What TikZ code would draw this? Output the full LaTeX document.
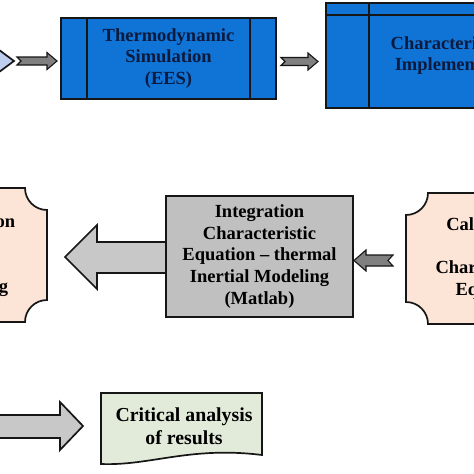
\documentclass[tikz,border=0pt]{standalone}
\usepackage{fontspec}
\setmainfont{Liberation Serif}
\definecolor{boxblue}{RGB}{16,116,214}
\definecolor{navytext}{RGB}{12,26,62}
\definecolor{lightblue}{RGB}{190,206,238}
\definecolor{peach}{RGB}{252,228,214}
\definecolor{greybox}{RGB}{192,192,192}
\definecolor{arrowgrey}{RGB}{128,128,128}
\definecolor{biggrey}{RGB}{200,200,200}
\definecolor{docgreen}{RGB}{226,235,218}
\definecolor{edge}{RGB}{22,22,22}
\newcommand{\plaquepath}[4]{%
 ({#1+22},#2) -- ({#3-22},#2) .. controls ({#3-22},{#2+12.15}) and ({#3-12.15},{#2+22}) .. (#3,{#2+22})
 -- (#3,{#4-22}) .. controls ({#3-12.15},{#4-22}) and ({#3-22},{#4-12.15}) .. ({#3-22},#4)
 -- ({#1+22},#4) .. controls ({#1+22},{#4-12.15}) and ({#1+12.15},{#4-22}) .. (#1,{#4-22})
 -- (#1,{#2+22}) .. controls ({#1+12.15},{#2+22}) and ({#1+22},{#2+12.15}) .. cycle}
\begin{document}
\begin{tikzpicture}[x=1pt,y=-1pt,line join=miter,
  shp/.style={draw=edge,line width=1.7pt},
  lbl/.style={font=\bfseries\fontsize{18.5}{21.7}\selectfont,align=center,inner sep=0pt},
  bluebox/.style={shp,fill=boxblue,text=navytext,lbl,inner sep=0pt},
  smallarr/.style={draw=edge,line width=1.1pt,fill=arrowgrey},
  bigarr/.style={shp,fill=biggrey}]
\useasboundingbox (0,0) rectangle (474,474);
\clip (0,0) rectangle (474,474);
\fill[white] (0,0) rectangle (474,474);

% partial start shape (top left)
\draw[shp,fill=lightblue] (-40,21) -- (14,61) -- (-40,101) -- cycle;
\coordinate (startshape) at (14,61);

% thermodynamic simulation (predefined process)
\node[bluebox,minimum width=215pt,minimum height=81pt] (thermo) at (168.5,58.5)
  {Thermodynamic\\Simulation\\(EES)};
\draw[shp] ([xshift=27pt]thermo.north west) -- ([xshift=27pt]thermo.south west);
\draw[shp] ([xshift=-27pt]thermo.north east) -- ([xshift=-27pt]thermo.south east);

% characteristic implementation (internal storage)
\node[bluebox,minimum width=264pt,minimum height=105pt] (implem) at (458,55.5)
  {Characterization\\Implementation};
\draw[shp] ([xshift=44pt]implem.north west) -- ([xshift=44pt]implem.south west);
\draw[shp] ([yshift=-13pt]implem.north west) -- ([yshift=-13pt]implem.north east);

% small arrows, top row
\draw[smallarr] (57,61) -- (47,52.5) -- (47,57) -- (17,57) -- (21,61) -- (17,65) -- (47,65) -- (47,69.5) -- cycle;
\draw[smallarr] (318,61.5) -- (308,53) -- (308,57.5) -- (281,57.5) -- (285,61.5) -- (281,65.5) -- (308,65.5) -- (308,70) -- cycle;

% right plaque: calculation
\draw[shp,fill=peach] \plaquepath{406}{193}{582}{324};
\node[lbl] (calc) at (492,258.5) {Calculation\\of\\Characteristic\\Equation};

% small arrow, middle row
\draw[smallarr] (354,260.5) -- (366,250) -- (366,255) -- (393,255) -- (388,260.5) -- (393,266) -- (366,266) -- (366,271) -- cycle;

% big left arrow
\draw[bigarr] (65,257) -- (97,225) -- (97,242) -- (172,242) -- (172,273) -- (97,273) -- (97,289) -- cycle;

% integration box
\node[shp,fill=greybox,lbl,minimum width=187pt,minimum height=121pt] (integ) at (259.5,256.5)
  {Integration\\Characteristic\\Equation -- thermal\\Inertial Modeling\\(Matlab)};

% left plaque
\draw[shp,fill=peach] \plaquepath{-106}{188}{47}{322};
\node[lbl] (model) at (-29.5,255.5) {Integration\\of\\the\\Modeling};

% big bottom arrow
\draw[bigarr] (83,426) -- (60,402) -- (60,415) -- (-10,415) -- (-10,438) -- (60,438) -- (60,450) -- cycle;

% document shape
\draw[shp,fill=docgreen] (101,393) -- (262,393) -- (262,455)
  .. controls (190,446) and (150,466) .. (101,464) -- cycle;
\node[lbl,font=\bfseries\fontsize{19.8}{23}\selectfont] (crit) at (184,426) {Critical analysis\\of results};
\end{tikzpicture}
\end{document}
